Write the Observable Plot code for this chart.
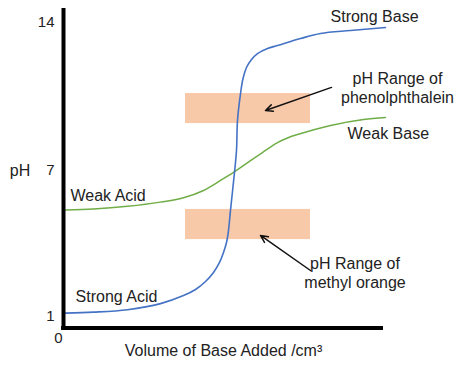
<!DOCTYPE html>
<html>
<head>
<meta charset="utf-8">
<script src="https://cdn.jsdelivr.net/npm/d3@7"></script>
<script src="https://cdn.jsdelivr.net/npm/@observablehq/plot@0.6"></script>
<style>
  html, body { margin: 0; padding: 0; background: #fff; }
  #chart svg { display: block; }
</style>
</head>
<body>
<div id="chart"></div>
<script>
// Strong acid titrated with strong base (blue)
const strongVolume = [0.31, 4.69, 10.0, 15.16, 18.75, 20.63, 22.19, 23.44, 24.38, 25.0, 25.47, 25.78, 26.09, 26.72, 27.03, 27.19, 27.66, 28.05, 28.59, 29.38, 30.31, 31.88, 33.44, 37.03, 40.16, 44.84, 50.31];
const strongPH     = [1.14, 1.18, 1.28, 1.53, 1.86, 2.11, 2.44, 2.81, 3.22, 3.63, 4.04, 4.53, 5.36, 6.92, 7.95, 9.37, 10.64, 11.35, 11.87, 12.25, 12.53, 12.77, 12.91, 13.24, 13.48, 13.62, 13.76];

// Weak acid titrated with weak base (green)
const weakVolume = [0.31, 4.69, 10.0, 15.16, 18.75, 21.88, 24.53, 26.56, 29.22, 31.09, 33.44, 35.0, 36.56, 41.72, 46.88, 50.31];
const weakPH     = [5.38, 5.42, 5.53, 5.70, 5.88, 6.18, 6.59, 6.92, 7.47, 7.85, 8.32, 8.54, 8.70, 9.13, 9.41, 9.51];

// Indicator pH ranges
const indicatorNames = ["phenolphthalein", "methyl orange"];
const indicatorLow   = [9.22, 4.16];
const indicatorHigh  = [10.64, 5.40];
const indicatorFrom  = [19.06, 19.06];
const indicatorTo    = [38.59, 38.59];

// Axis ticks (the sketch's pH axis is not drawn to uniform scale)
const yTickValues = [1, 7, 14];
const yTickLabels = ["1", "7", "14"];
const phWarpFrom = [0, 1, 7, 14];
const phWarpTo   = [0, 0.527, 7.218, 14];
const xDomain = [0, 50];
const yDomain = [0, 14];

// Curve labels (anchored in data coordinates)
const curveLabelText = ["Weak Acid", "Strong Acid", "Strong Base", "Weak Base"];
const curveLabelV    = [1.09, 1.88, 41.72, 44.38];
const curveLabelPH   = [5.97, 1.82, 14.28, 8.75];

// Indicator callouts
const calloutLines = ["pH Range of", "phenolphthalein", "pH Range of", "methyl orange"];
const calloutV     = [52.19, 52.19, 45.55, 45.55];
const calloutPH    = [11.35, 10.45, 3.18, 2.40];
const arrowFromV  = [41.88, 38.59];
const arrowFromPH = [10.93, 2.89];
const arrowToV    = [31.56, 30.78];
const arrowToPH   = [9.84, 4.33];

const strong = strongVolume.map((v, i) => ({v, ph: strongPH[i]}));
const weak = weakVolume.map((v, i) => ({v, ph: weakPH[i]}));
const indicators = indicatorNames.map((name, i) => ({name, lo: indicatorLow[i], hi: indicatorHigh[i], v1: indicatorFrom[i], v2: indicatorTo[i]}));
const curveLabels = curveLabelText.map((t, i) => ({t, v: curveLabelV[i], ph: curveLabelPH[i]}));
const callouts = calloutLines.map((t, i) => ({t, v: calloutV[i], ph: calloutPH[i]}));
const arrows = arrowFromV.map((v, i) => ({x1: v, y1: arrowFromPH[i], x2: arrowToV[i], y2: arrowToPH[i]}));
const yTicks = yTickValues.map((ph, i) => ({ph, label: yTickLabels[i]}));

const phWarp = d3.scaleLinear().domain(phWarpFrom).range(phWarpTo);

const font = "'Liberation Sans', Arial, Helvetica, sans-serif";

const chart = Plot.plot({
  width: 474,
  height: 369,
  marginLeft: 63,
  marginRight: 91,
  marginTop: 22,
  marginBottom: 41.5,
  style: {fontFamily: font, fontSize: "16px", color: "#222", background: "#fff"},
  x: {domain: xDomain, axis: null},
  y: {domain: yDomain, transform: d => phWarp(d), axis: null},
  marks: [
    Plot.rect(indicators, {x1: "v1", x2: "v2", y1: "lo", y2: "hi", fill: "#f8c9a9"}),
    Plot.line(weak, {x: "v", y: "ph", stroke: "#70ad47", strokeWidth: 1.5, curve: "catmull-rom"}),
    Plot.line(strong, {x: "v", y: "ph", stroke: "#4472c4", strokeWidth: 1.6, curve: "catmull-rom"}),
    Plot.arrow(arrows, {x1: "x1", y1: "y1", x2: "x2", y2: "y2", stroke: "#111", strokeWidth: 1.5, headLength: 8, headAngle: 50}),
    // axes
    Plot.ruleX([0], {y1: -0.15, y2: 14.66, stroke: "#000", strokeWidth: 4}),
    Plot.ruleY([0], {x1: -0.3, x2: 50, stroke: "#000", strokeWidth: 4}),
    Plot.text(yTicks, {x: 0, y: "ph", text: "label", textAnchor: "end", dx: -9, fontSize: 15, fill: "#222"}),
    Plot.text(["0"], {x: 0, y: 0, text: d => d, dx: -5, dy: 10, fontSize: 15, fill: "#222"}),
    Plot.text(["pH"], {x: 0, y: 7, text: d => d, dx: -43.5, fontSize: 16, fill: "#222"}),
    Plot.text(["Volume of Base Added /cm³"], {x: 25, y: 0, text: d => d, dy: 23, fontSize: 16, fill: "#222"}),
    // labels
    Plot.text(curveLabels, {x: "v", y: "ph", text: "t", textAnchor: "start", fontSize: 16, fill: "#222"}),
    Plot.text(callouts, {x: "v", y: "ph", text: "t", textAnchor: "middle", fontSize: 16, fill: "#222"})
  ]
});
document.getElementById("chart").appendChild(chart);
</script>
</body>
</html>
